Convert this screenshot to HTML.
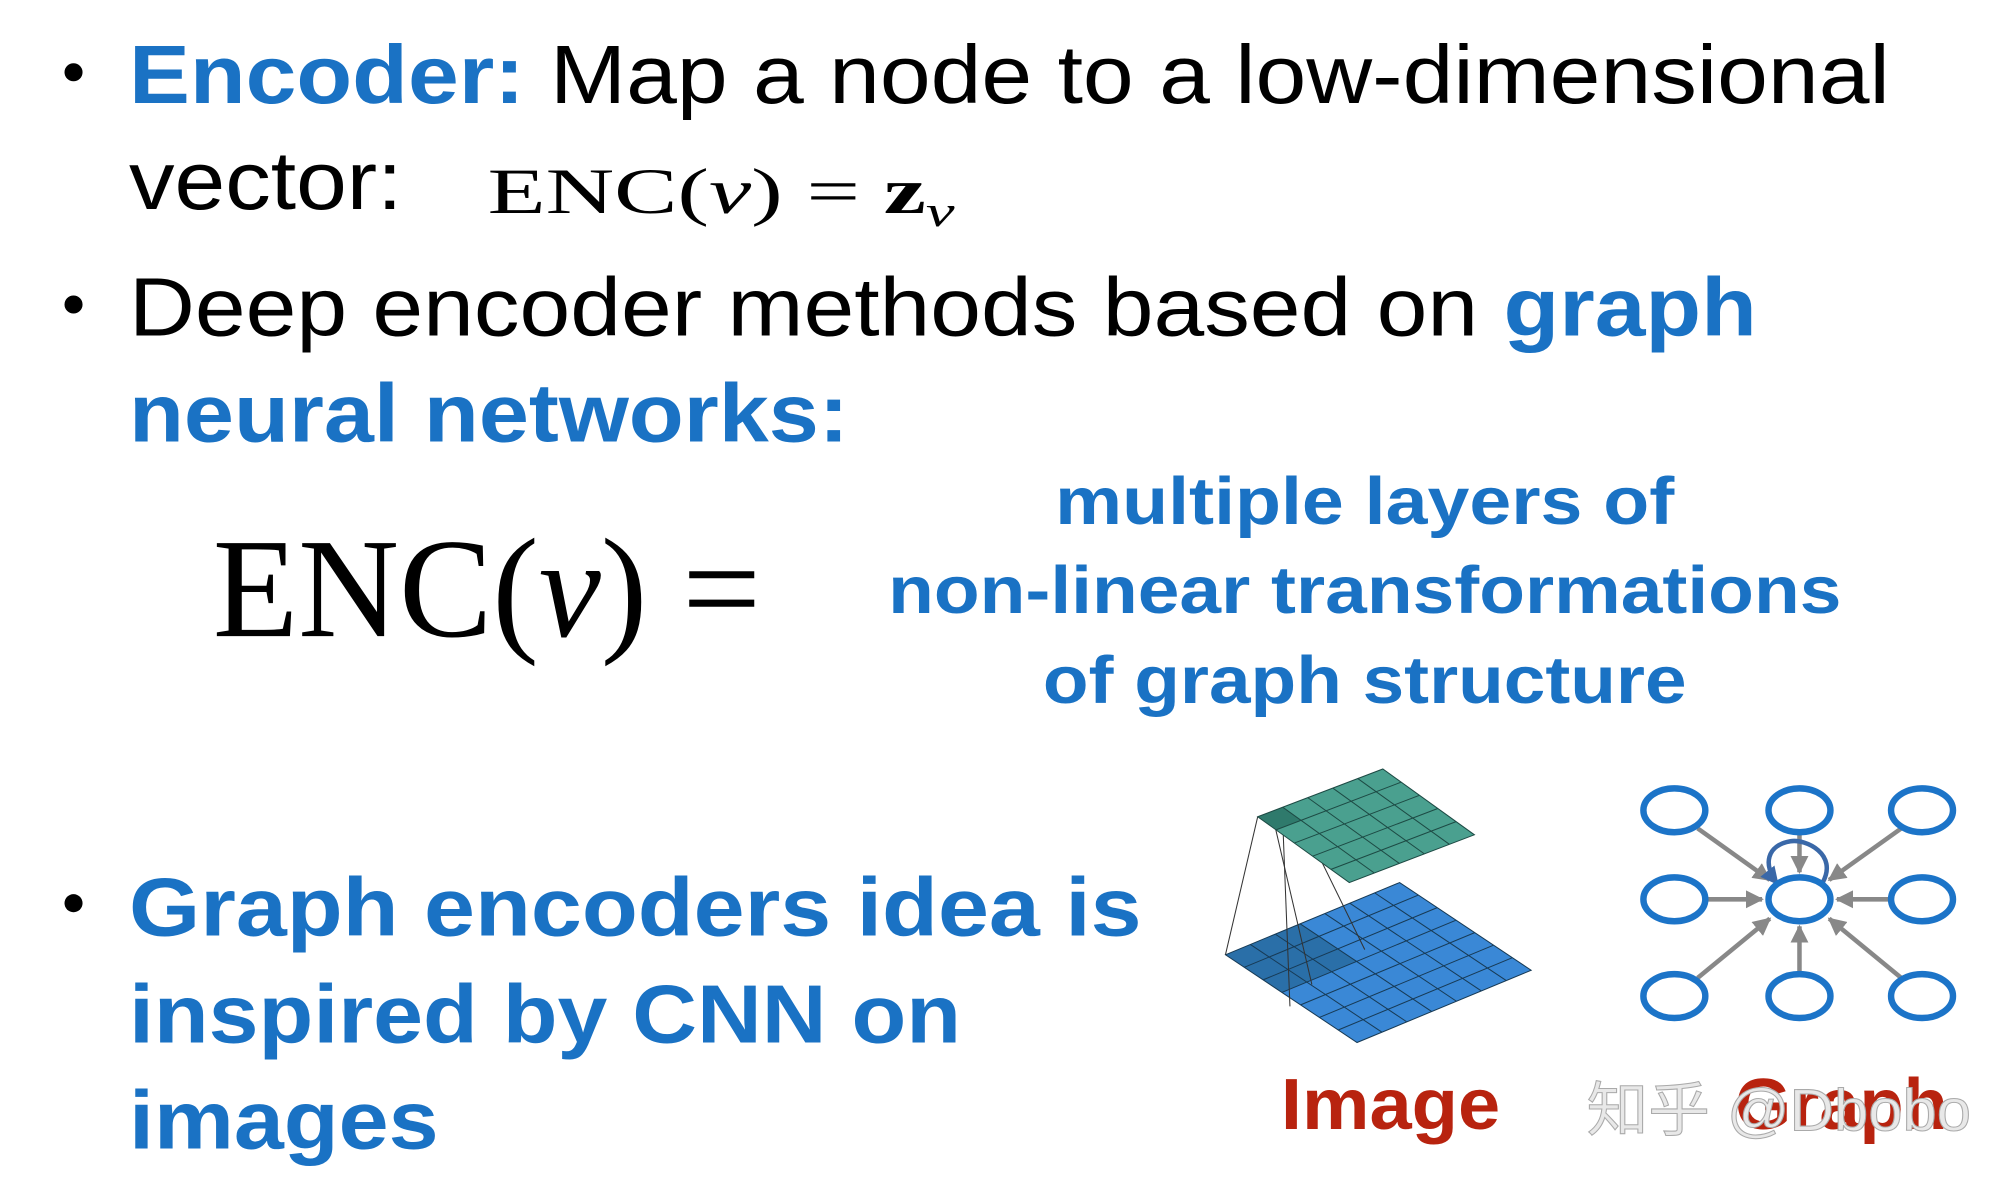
<!DOCTYPE html>
<html><head><meta charset="utf-8"><style>
html,body{margin:0;padding:0;background:#fff;}
svg{display:block;}
.s{font-family:"Liberation Sans","Noto Sans CJK SC",sans-serif;}
.m{font-family:"Liberation Serif",serif;}
.b{font-weight:bold;fill:#1a72c4;}
</style></head><body>
<svg width="2002" height="1178" viewBox="0 0 1552 913" preserveAspectRatio="none" xmlns="http://www.w3.org/2000/svg">
<rect width="1552" height="913" fill="#fff"/>
<circle cx="57" cy="56" r="7" fill="#000"/>
<circle cx="57" cy="236" r="7" fill="#000"/>
<circle cx="57" cy="700" r="7" fill="#000"/>
<text class="s" x="100" y="80" font-size="64" textLength="1365" lengthAdjust="spacingAndGlyphs"><tspan class="b">Encoder:</tspan> Map a node to a low-dimensional</text>
<text class="s" x="100" y="162" font-size="64" textLength="212" lengthAdjust="spacingAndGlyphs">vector:</text>
<text class="m" x="378" y="165" font-size="50" textLength="362" lengthAdjust="spacingAndGlyphs">ENC(<tspan font-style="italic">v</tspan>) = <tspan font-weight="bold">z</tspan><tspan font-style="italic" font-size="34" dy="10">v</tspan></text>
<text class="s" x="100" y="260" font-size="64" textLength="1262" lengthAdjust="spacingAndGlyphs">Deep encoder methods based on <tspan class="b">graph</tspan></text>
<text class="s b" x="100" y="342" font-size="64" textLength="558" lengthAdjust="spacingAndGlyphs">neural networks:</text>
<text class="m" x="165" y="493" font-size="110" textLength="425" lengthAdjust="spacingAndGlyphs">ENC(<tspan font-style="italic">v</tspan>) =</text>
<text class="s b" x="1058" y="406" font-size="52" text-anchor="middle" textLength="480" lengthAdjust="spacingAndGlyphs">multiple layers of</text>
<text class="s b" x="1058" y="475" font-size="52" text-anchor="middle" textLength="739" lengthAdjust="spacingAndGlyphs">non-linear transformations</text>
<text class="s b" x="1058" y="545" font-size="52" text-anchor="middle" textLength="499" lengthAdjust="spacingAndGlyphs">of graph structure</text>
<text class="s b" x="100" y="725" font-size="64" textLength="785" lengthAdjust="spacingAndGlyphs">Graph encoders idea  is</text>
<text class="s b" x="100" y="808" font-size="64" textLength="645" lengthAdjust="spacingAndGlyphs">inspired by CNN on</text>
<text class="s b" x="100" y="890" font-size="64" textLength="240" lengthAdjust="spacingAndGlyphs">images</text>

<!-- blue grid -->
<g transform="matrix(135,-56,102,68,950,740)">
<rect width="1" height="1" fill="#3a88d6"/>
<rect width="0.43" height="0.43" fill="#2a6fa8"/>
<g stroke="#173a55" stroke-width="1" vector-effect="non-scaling-stroke" fill="none">
<path vector-effect="non-scaling-stroke" d="M0 0H1V1H0Z M0.143 0V1 M0.286 0V1 M0.429 0V1 M0.571 0V1 M0.714 0V1 M0.857 0V1 M0 0.143H1 M0 0.286H1 M0 0.429H1 M0 0.571H1 M0 0.714H1 M0 0.857H1"/>
</g></g>
<!-- projection lines -->
<g stroke="#333" stroke-width="0.8">
<line x1="975" y1="633" x2="950" y2="740"/>
<line x1="994" y1="626" x2="1000" y2="780"/>
<line x1="989" y1="643" x2="1017" y2="763"/>
<line x1="1009" y1="636" x2="1058" y2="736"/>
</g>
<!-- green grid -->
<g transform="matrix(97,-37,71,51,975,633)">
<rect width="1" height="1" fill="#4aa08f"/>
<rect width="0.2" height="0.2" fill="#2f7a6c"/>
<path fill="none" stroke="#1d4a44" vector-effect="non-scaling-stroke" stroke-width="1" d="M0 0H1V1H0Z M0.2 0V1 M0.4 0V1 M0.6 0V1 M0.8 0V1 M0 0.2H1 M0 0.4H1 M0 0.6H1 M0 0.8H1"/>
</g>

<!-- graph -->
<defs><marker id="ah" viewBox="0 0 10 10" refX="9" refY="5" markerWidth="4" markerHeight="4" orient="auto"><path d="M0 0L10 5L0 10Z" fill="#888"/></marker>
<marker id="ah2" viewBox="0 0 10 10" refX="9" refY="5" markerWidth="4" markerHeight="4" orient="auto"><path d="M0 0L10 5L0 10Z" fill="#3a68a8"/></marker></defs>
<g stroke="#888" stroke-width="3.5" marker-end="url(#ah)">
<line x1="1316" y1="642" x2="1372" y2="682"/>
<line x1="1395" y1="646" x2="1395" y2="676"/>
<line x1="1474" y1="642" x2="1418" y2="682"/>
<line x1="1324" y1="697" x2="1366" y2="697"/>
<line x1="1466" y1="697" x2="1424" y2="697"/>
<line x1="1316" y1="758" x2="1372" y2="712"/>
<line x1="1395" y1="754" x2="1395" y2="718"/>
<line x1="1474" y1="758" x2="1418" y2="712"/>
</g>
<path d="M1413 684 C1425 662,1400 650,1388 652 C1370 655,1366 670,1378 685" fill="none" stroke="#3a68a8" stroke-width="3.5" marker-end="url(#ah2)"/>
<g fill="#fff" stroke="#1c74c8" stroke-width="5">
<ellipse cx="1298" cy="628" rx="24" ry="17"/>
<ellipse cx="1395" cy="628" rx="24" ry="17"/>
<ellipse cx="1490" cy="628" rx="24" ry="17"/>
<ellipse cx="1298" cy="697" rx="24" ry="17"/>
<ellipse cx="1395" cy="697" rx="24" ry="17"/>
<ellipse cx="1490" cy="697" rx="24" ry="17"/>
<ellipse cx="1298" cy="772" rx="24" ry="17"/>
<ellipse cx="1395" cy="772" rx="24" ry="17"/>
<ellipse cx="1490" cy="772" rx="24" ry="17"/>
</g>
<text class="s" x="993" y="875" font-size="56" font-weight="bold" fill="#b8230f" textLength="170" lengthAdjust="spacingAndGlyphs">Image</text>
<text class="s" x="1345" y="875" font-size="56" font-weight="bold" fill="#b8230f" textLength="165" lengthAdjust="spacingAndGlyphs">Graph</text>
<text class="s" x="1230" y="876" font-size="46" fill="#e8e8e8" stroke="#aaa" stroke-width="0.8" textLength="298" lengthAdjust="spacingAndGlyphs">知乎 @Dbobo</text>
</svg>
</body></html>
